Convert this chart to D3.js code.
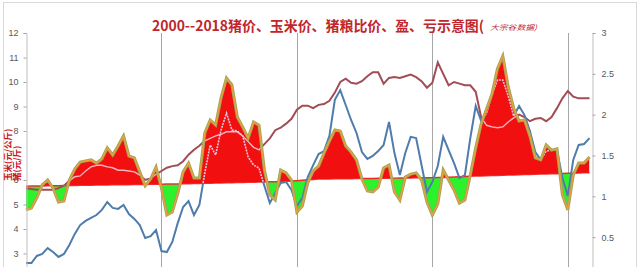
<!DOCTYPE html>
<html>
<head>
<meta charset="utf-8">
<script src="https://cdn.jsdelivr.net/npm/d3@7"></script>
<style>
  body { margin: 0; background: #fff; }
  svg { display: block; }
</style>
</head>
<body>
<div class="chart"></div>
<script>
// pig price, left axis (one point every two months)
var pigPrice = [2.61,2.61,2.90,2.98,3.22,3.06,2.86,2.98,3.35,3.80,
  4.16,4.33,4.45,4.57,4.78,5.10,4.86,4.82,4.98,4.61,
  4.41,4.16,3.63,3.71,3.96,3.10,3.06,3.47,4.24,4.90,
  5.14,4.57,4.98,6.29,7.43,7.02,8.04,8.73,8.04,8.00,
  7.80,6.94,6.61,6.49,5.76,5.06,5.47,5.88,5.92,5.59,
  4.94,5.27,6.12,6.61,7.06,7.18,7.80,9.27,9.67,9.06,
  8.45,7.92,7.14,6.86,6.98,7.18,7.43,8.37,7.10,6.20,
  7.10,7.76,7.71,6.61,5.51,5.92,6.57,7.76,7.22,6.69,
  6.08,6.20,7.71,9.02,8.41,8.73,9.47,10.08,10.08,9.43,
  8.61,9.02,8.65,8.00,7.14,6.82,7.18,7.22,7.22,6.08,
  5.35,6.82,7.43,7.47,7.71];

// corn price, right axis
var cornPrice = [1.10,1.09,1.08,1.08,1.08,1.08,1.10,1.13,1.19,1.24,
  1.25,1.31,1.36,1.38,1.38,1.36,1.35,1.32,1.32,1.31,
  1.30,1.26,1.20,1.22,1.27,1.31,1.35,1.37,1.38,1.43,
  1.51,1.57,1.62,1.68,1.71,1.74,1.76,1.79,1.79,1.79,
  1.74,1.67,1.60,1.57,1.64,1.71,1.81,1.84,1.89,1.95,
  2.06,2.11,2.11,2.08,2.12,2.13,2.17,2.27,2.40,2.44,
  2.39,2.38,2.41,2.47,2.52,2.52,2.38,2.45,2.46,2.45,
  2.47,2.49,2.46,2.41,2.33,2.39,2.64,2.50,2.36,2.40,
  2.38,2.36,2.36,2.28,1.97,1.87,1.85,1.84,1.85,1.91,
  1.96,2.00,1.97,1.92,1.95,1.96,1.92,1.97,2.08,2.20,
  2.29,2.22,2.20,2.20,2.20];

// hog/grain ratio, left axis
var hogRatio = [4.78,4.86,5.27,5.80,6.00,5.67,5.10,5.14,6.00,6.45,
  6.73,6.78,6.82,6.69,6.86,7.31,7.02,7.39,7.80,6.98,
  6.90,6.33,5.76,6.04,6.53,5.67,4.57,4.69,5.43,6.33,
  6.69,6.08,6.08,7.92,8.45,8.24,9.35,10.16,9.88,8.57,
  8.16,7.71,8.37,8.24,6.41,5.39,5.18,6.41,6.29,6.00,
  4.69,4.94,5.88,6.37,6.57,7.10,7.59,8.04,8.00,7.39,
  7.14,6.82,6.04,5.55,5.51,5.71,6.49,6.61,5.51,5.18,
  6.12,6.24,6.29,6.00,5.10,4.57,5.02,6.41,6.00,5.59,
  5.06,5.18,6.20,7.31,8.29,8.90,9.51,10.53,11.06,9.80,
  8.94,8.41,8.45,7.80,6.90,6.82,7.43,7.22,7.27,5.39,
  4.78,6.20,6.69,6.69,6.94];

// break-even line, left axis
var breakEvenIdx = [0, 28, 48, 54, 77, 83, 104];
var breakEvenVal = [5.75, 5.84, 5.94, 6.04, 6.10, 6.16, 6.30];

var leftTicks = [3, 4, 5, 6, 8, 9, 10, 11, 12];
var rightTicks = [0.5, 1, 1.5, 2, 2.5, 3];
var gridIdx = [25, 50, 75, 100];

var width = 640, height = 267;

var svg = d3.select(".chart").append("svg")
    .attr("width", width)
    .attr("height", height);

var x = d3.scaleLinear().domain([0, pigPrice.length - 1]).range([26, 589.5]);
var yL = d3.scaleLinear().domain([2, 12]).range([278, 33]);
var yR = d3.scaleLinear().domain([0, 3]).range([278, 33]);
var be = d3.scaleLinear().domain(breakEvenIdx).range(breakEvenVal);

// outer frame
svg.append("rect")
    .attr("x", 3.5).attr("y", 2.5)
    .attr("width", 633).attr("height", 300)
    .attr("fill", "none")
    .attr("stroke", "#d9d9d9");

// vertical grid
svg.selectAll(".vgrid")
    .data(gridIdx)
    .enter().append("line")
    .attr("class", "vgrid")
    .attr("x1", function (d) { return Math.round(x(d)) + 0.5; })
    .attr("x2", function (d) { return Math.round(x(d)) + 0.5; })
    .attr("y1", 33).attr("y2", 280)
    .attr("stroke", "#a6a6a6");

var defs = svg.append("defs");
var above = d3.area().x(function (d, i) { return x(i); }).y0(0)
    .y1(function (d, i) { return yL(be(i)); });
var below = d3.area().x(function (d, i) { return x(i); })
    .y0(function (d, i) { return yL(be(i)); }).y1(300);
var band = d3.area().x(function (d, i) { return x(i); })
    .y0(function (d, i) { return yL(be(i)); })
    .y1(function (d) { return yL(d); });

defs.append("clipPath").attr("id", "clipUp").append("path").attr("d", above(hogRatio));
defs.append("clipPath").attr("id", "clipDown").append("path").attr("d", below(hogRatio));
defs.append("clipPath").attr("id", "clipBand").append("path").attr("d", band(hogRatio));

var lineL = d3.line().x(function (d, i) { return x(i); }).y(function (d) { return yL(d); });
var lineR = d3.line().x(function (d, i) { return x(i); }).y(function (d) { return yR(d); });
var beLine = d3.line().x(function (d, i) { return x(i); }).y(function (d, i) { return yL(be(i)); });

// loss area (green)
svg.append("path")
    .attr("d", band(hogRatio))
    .attr("clip-path", "url(#clipDown)")
    .attr("fill", "#2bf22b");

// break-even line
svg.append("path")
    .attr("d", beLine(hogRatio))
    .attr("fill", "none")
    .attr("stroke", "#f03030")
    .attr("stroke-width", 1.5);

// pig and corn lines
svg.append("path")
    .attr("d", lineR(cornPrice))
    .attr("fill", "none")
    .attr("stroke", "#a24c55")
    .attr("stroke-width", 2);

svg.append("path")
    .attr("d", lineL(pigPrice))
    .attr("fill", "none")
    .attr("stroke", "#4f7cab")
    .attr("stroke-width", 2);

// profit area (red)
svg.append("path")
    .attr("d", band(hogRatio))
    .attr("clip-path", "url(#clipUp)")
    .attr("fill", "#f20f0f");

// lines seen through the red area
var inRed = svg.append("g").attr("clip-path", "url(#clipUp)")
    .append("g").attr("clip-path", "url(#clipBand)");
inRed.append("path")
    .attr("d", lineR(cornPrice))
    .attr("fill", "none")
    .attr("stroke", "#f7b5bf")
    .attr("stroke-width", 1.4);
inRed.append("path")
    .attr("d", lineL(pigPrice))
    .attr("fill", "none")
    .attr("stroke", "#e7c8e0")
    .attr("stroke-width", 1.6)
    .attr("stroke-dasharray", "2,1");

// ratio outline
svg.append("path")
    .attr("d", lineL(hogRatio))
    .attr("fill", "none")
    .attr("stroke", "#a3a35a")
    .attr("stroke-width", 3);
svg.append("path")
    .attr("d", lineL(hogRatio))
    .attr("fill", "none")
    .attr("stroke", "#f0a238")
    .attr("stroke-width", 1.1);

// axes
svg.append("g")
    .attr("transform", "translate(26.5,0)")
    .call(d3.axisLeft(yL).tickValues(leftTicks).tickSize(3).tickPadding(5));
svg.append("g")
    .attr("transform", "translate(592.5,0)")
    .call(d3.axisRight(yR).tickValues(rightTicks).tickFormat(d3.format("~g"))
        .tickSize(3).tickPadding(6));

svg.selectAll(".domain").attr("stroke", "#bfbfbf");
svg.selectAll(".tick line").attr("stroke", "#a6a6a6");
svg.selectAll(".tick text")
    .attr("fill", "#595959")
    .style("font-family", "Liberation Sans, Arial, sans-serif")
    .style("font-size", "9px");

// left axis title
var yt = svg.append("text")
    .attr("transform", "translate(11,181) rotate(-90)")
    .attr("fill", "#c8141e")
    .style("font-family", "Noto Sans CJK SC")
    .style("font-weight", "bold")
    .style("font-size", "8.5px");
yt.append("tspan").attr("x", 0).attr("y", 0).text("玉米(元/公斤)");
yt.append("tspan").attr("x", 0).attr("y", 9).text("猪(元/斤)");

// title
svg.append("text")
    .attr("x", 152).attr("y", 31)
    .attr("fill", "#c0262c")
    .attr("textLength", 332)
    .attr("lengthAdjust", "spacingAndGlyphs")
    .style("font-family", "Noto Sans CJK SC")
    .style("font-weight", "bold")
    .style("font-size", "14px")
    .text("2000--2018猪价、玉米价、猪粮比价、盈、亏示意图(");
svg.append("text")
    .attr("x", 490).attr("y", 30)
    .attr("fill", "#c0262c")
    .attr("textLength", 47)
    .attr("lengthAdjust", "spacingAndGlyphs")
    .style("font-family", "Noto Sans CJK SC")
    .style("font-style", "italic")
    .style("font-size", "7px")
    .text("大宗谷数据)");
</script>
</body>
</html>
